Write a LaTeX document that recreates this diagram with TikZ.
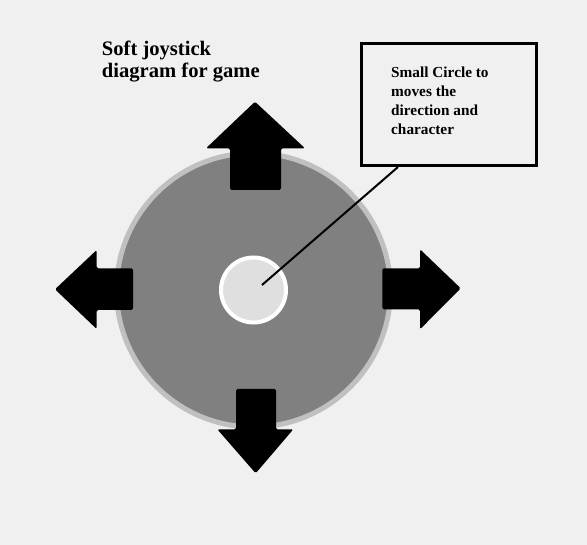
\documentclass[tikz,border=0pt]{standalone}
\usepackage{fontspec}
\setmainfont{Liberation Serif}
\begin{document}
\begin{tikzpicture}[x=1pt,y=-1pt,
  arrowshape/.style={fill=black,rounded corners=1.5pt},
  titletext/.style={anchor=base west,inner sep=0pt,align=left,font=\fontsize{20.6}{22}\selectfont\bfseries},
  notetextstyle/.style={anchor=base west,inner sep=0pt,align=left,font=\fontsize{15.3}{19}\selectfont\bfseries}]
\definecolor{bg}{HTML}{F0F0F0}
\definecolor{ringgray}{HTML}{C0C0C0}
\definecolor{padgray}{HTML}{808080}
\definecolor{knobfill}{HTML}{DFDFDF}
\fill[bg] (0,0) rectangle (587,545);
\useasboundingbox (0,0) rectangle (587,545);
% pad
\node[circle,fill=padgray,draw=ringgray,line width=5pt,minimum size=274pt,inner sep=0pt] (pad) at (253.5,290) {};
% knob
\node[circle,fill=knobfill,draw=white,line width=4pt,minimum size=65pt,inner sep=0pt] (knob) at (253.5,290) {};
% arrows
\fill[arrowshape] (255,101.7) -- (305,148.3) -- (281,148.3) -- (281,190) -- (230,190) -- (230,148.3) -- (206,148.3) -- cycle;
\fill[arrowshape] (55,289.3) -- (96.7,250) -- (96.7,268.3) -- (133,268.3) -- (133,310) -- (96.7,310) -- (96.7,329) -- cycle;
\fill[arrowshape] (460.7,288.3) -- (420,249.3) -- (420,268.3) -- (382.3,268.3) -- (382.3,309.3) -- (420,309.3) -- (420,329.3) -- cycle;
\fill[arrowshape] (255.7,473.3) -- (293.3,429.3) -- (276,429.3) -- (276,389) -- (236,389) -- (236,429.3) -- (217.3,429.3) -- cycle;
% title (base anchor = baseline of last line)
\node[titletext] (title) at (101.7,77.7) {Soft joystick\\diagram for game};
% note box
\node[draw=black,line width=3pt,minimum width=175pt,minimum height=122pt,inner sep=0pt] (note) at (449,104.5) {};
\node[notetextstyle] (notetext) at (391,135) {Small Circle to\\moves the\\direction and\\character};
% connector
\coordinate (knobpt) at (262,285);
\coordinate (noteend) at (398,167);
\draw[line width=2pt] (knobpt) -- (noteend);
\end{tikzpicture}
\end{document}
